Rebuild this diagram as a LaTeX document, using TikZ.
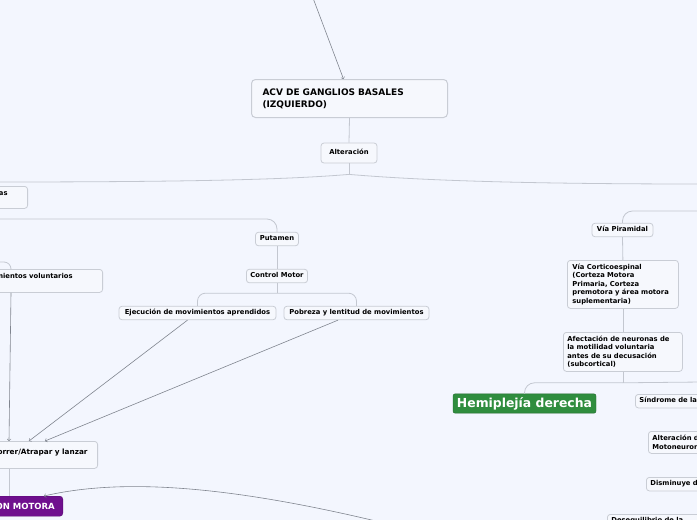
\documentclass[tikz,border=0pt]{standalone}
\usepackage{fontspec}
\setmainfont{DejaVu Sans}
\usetikzlibrary{calc}
\definecolor{paper}{HTML}{F3F6FE}
\definecolor{boxfill}{HTML}{F6F8FD}
\definecolor{boxline}{HTML}{C9CDD5}
\definecolor{branchc}{HTML}{C3C7D0}
\definecolor{linkc}{HTML}{80858F}
\definecolor{hemigreen}{HTML}{2F8D3E}
\definecolor{motpurple}{HTML}{6F0F8E}
\tikzset{leaf/.style = {draw=boxline, fill=boxfill, rounded corners=3pt, line width=0.8pt, font=\fontsize{6.8}{8.5}\selectfont\bfseries, inner xsep=4pt, inner ysep=3.5pt, text height=5pt, text depth=1.5pt}}
\tikzset{note/.style = {draw=boxline, fill=boxfill, rounded corners=3pt, line width=0.8pt, font=\fontsize{6.8}{8.5}\selectfont\bfseries, align=left, inner xsep=5pt}}
\tikzset{topic/.style = {draw=boxline, fill=boxfill, rounded corners=4pt, line width=1pt, font=\fontsize{9}{12}\selectfont\bfseries, text width=174pt, align=left, inner xsep=11pt, minimum height=38pt}}
\tikzset{hemi/.style = {fill=hemigreen, draw=hemigreen!75!black, text=white, rounded corners=2pt, font=\fontsize{12.4}{14}\selectfont\bfseries}}
\tikzset{motora/.style = {fill=motpurple, draw=motpurple!80!black, text=white, rounded corners=3pt, font=\fontsize{8.5}{10}\selectfont\bfseries, inner xsep=8pt, minimum height=20pt}}
\tikzset{branch/.style = {draw=branchc, line width=0.8pt}}
\tikzset{link/.style = {draw=linkc, line width=0.6pt, ->}}

\begin{document}
\begin{tikzpicture}[x=1pt, y=-1pt]
\useasboundingbox (0,0) rectangle (697,520);
\fill[paper] (0,0) rectangle (697,520);
\clip (0,0) rectangle (697,520);

% centre
\node[topic, anchor=north west] (acv) at (251,79) {ACV DE GANGLIOS BASALES\\(IZQUIERDO)};
\node[leaf, minimum width=56pt, minimum height=20pt] (alt) at (349,153) {Alteración};

% left side
\node[leaf, anchor=north east, inner xsep=20pt, text depth=9pt, inner ysep=4pt] (est) at (28,186) {as};
\node[leaf, anchor=north east, inner xsep=30pt, text height=5.5pt, text depth=9.5pt, inner ysep=4pt] (mov) at (103,269) {mientos voluntarios};
\node[leaf, minimum width=43pt] (put) at (277,239) {Putamen};
\node[leaf, minimum width=61pt] (ctrl) at (277,276) {Control Motor};
\node[leaf, minimum width=157pt] (ejec) at (197.5,313) {Ejecución de movimientos aprendidos};
\node[leaf, minimum width=145pt] (pobr) at (356.5,313) {Pobreza y lentitud de movimientos};
\node[leaf, anchor=north east, font=\fontsize{7.3}{9}\selectfont\bfseries, inner xsep=10pt, text height=9.5pt, text depth=9.5pt, inner ysep=4pt] (corr) at (98,441) {orrer/Atrapar y lanzar};
\node[motora, anchor=north east] (mot) at (63,496) {ON MOTORA};

% right side
\node[leaf, minimum width=61pt] (vpir) at (622.5,230) {Vía Piramidal};
\node[note, anchor=north west, text width=101pt, minimum height=48pt] (vcor) at (567,260) {Vía Corticoespinal\\(Corteza Motora\\Primaria, Corteza\\premotora y área motora\\suplementaria)};
\node[note, anchor=north west, text width=111pt, inner xsep=4pt, minimum height=39pt] (afec) at (563,332) {Afectación de neuronas de\\la motilidad voluntaria\\antes de su decusación\\(subcortical)};
\node[hemi, minimum width=143pt, minimum height=19pt] (hemi) at (524.5,403.5) {Hemiplejía derecha};
\node[leaf, anchor=north west, text width=80pt, align=left] (sind) at (635,394) {Síndrome de la};
\node[note, anchor=north west, text width=80pt, inner xsep=4pt, minimum height=22pt] (altm) at (648,431) {Alteración de\\Motoneurona};
\node[leaf, anchor=north west, text width=80pt, align=left] (dism) at (646,477) {Disminuye de};
\node[leaf, anchor=north west, text width=120pt, align=left] (deseq) at (607,514) {Desequilibrio de la};

% free ends
\coordinate (topsrc) at (313,-2);
\coordinate (lft0) at (-5,182);
\coordinate (rgt0) at (702,184);
\coordinate (lft1) at (-5,219);
\coordinate (lft2) at (-5,262);
\coordinate (rgt1) at (702,211);
\coordinate (rgt2) at (702,382);
\coordinate (crvsrc) at (420,532);

% tree lines
\draw[link] (topsrc) -- ([xshift=-6pt]acv.north);
\draw[branch] (acv.south) -- (alt.north);
\draw[branch] (alt.south) -- ++(0,11) coordinate (altfork);
\draw[branch] (altfork) .. controls +(-60,5) and +(200,0) .. (lft0);
\draw[branch] (altfork) .. controls +(60,5) and +(-200,0) .. (rgt0);
\draw[branch, rounded corners=10pt] (lft1) -| (put.north);
\draw[branch, rounded corners=7pt] (lft2) -| ([xshift=-92pt]mov.north east);
\draw[branch] (put.south) -- (ctrl.north);
\draw[branch] (ctrl.south) -- ++(0,10) coordinate (cmfork);
\draw[branch, rounded corners=8pt] (cmfork) -| (ejec.north);
\draw[branch, rounded corners=8pt] (cmfork) -| (pobr.north);
\draw[branch] ([xshift=-89pt]corr.south east) -- ([xshift=-54pt]mot.north east);

\draw[branch, rounded corners=10pt] (rgt1) -| (vpir.north);
\draw[branch] (vpir.south) -- (vcor.north);
\draw[branch] (vcor.south) -- (afec.north);
\draw[branch] (afec.south) -- ++(0,11) coordinate (affork);
\draw[branch, rounded corners=10pt] (affork) -| (hemi.north);
\draw[branch] (affork) -- (rgt2);

% arrows
\draw[link] ([xshift=-92pt]mov.south east) -- ([xshift=-89pt]corr.north east);
\draw[link] ([xshift=-10pt]ejec.south) -- ([xshift=-69pt]corr.north east);
\draw[link] ([xshift=-18.5pt]pobr.south) -- ([xshift=-53pt]corr.north east);
\draw[link] (crvsrc) .. controls (250,488) and (130,476) .. ([xshift=-19pt]mot.north east);
\end{tikzpicture}
\end{document}
